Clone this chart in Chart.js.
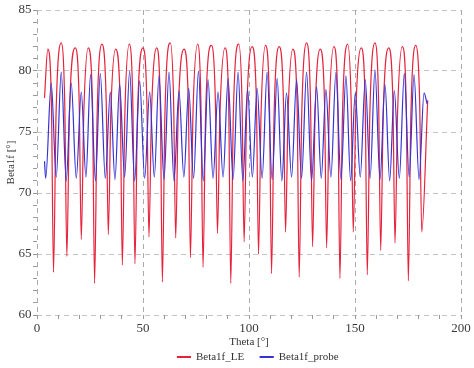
<!DOCTYPE html>
<html>
<head>
<meta charset="utf-8">
<script src="https://cdn.jsdelivr.net/npm/chart.js@4.4.1/dist/chart.umd.min.js"></script>
<style>
  html, body { margin: 0; padding: 0; background: #fff; }
</style>
</head>
<body>
<canvas id="chart" width="474" height="368"></canvas>
<script>
// ---- data (theta in deg, beta in deg) ----
const leEdgeTheta = [3.54, 184.3];
const leEdgeBeta  = [77.8, 77.6];
const lePeakTheta = [5.10, 11.43, 18.04, 24.19, 30.61, 37.08, 43.55, 49.98, 56.45, 62.92, 69.34, 75.81, 82.29, 88.71,
  95.18, 101.46, 107.79, 114.22, 120.69, 127.16, 133.58, 140.05, 146.53, 152.95, 159.42, 165.89, 172.32, 178.65];
const lePeakBeta  = [81.8, 82.3, 81.9, 81.9, 82.2, 81.8, 82.2, 81.9, 81.9, 82.3, 81.8, 82.2, 82.1, 81.9,
  82.2, 82.0, 82.1, 82.0, 81.8, 82.3, 81.8, 82.0, 82.2, 81.9, 82.3, 81.9, 82.0, 82.1];
const leFallTheta = [6.79, 13.08, 19.88, 26.16, 32.63, 39.25, 45.20, 51.81, 58.14, 64.42, 71.37, 77.32, 84.12, 90.40,
  96.69, 103.49, 109.63, 116.24, 122.67, 128.99, 135.61, 141.89, 148.17, 154.79, 161.12, 167.87, 174.16, 180.48];
const leFallBeta  = [77.5, 77.4, 77.6, 77.4, 77.6, 77.5, 77.4, 77.6, 77.4, 77.6, 77.5, 77.4, 77.6, 77.4,
  77.6, 77.5, 77.4, 77.6, 77.4, 77.6, 77.5, 77.4, 77.6, 77.4, 77.6, 77.5, 77.4, 77.6];
const leTroughTheta = [7.79, 14.08, 20.88, 27.16, 33.63, 40.25, 46.20, 52.81, 59.14, 65.42, 72.37, 78.32, 85.12, 91.40,
  97.69, 104.49, 110.63, 117.24, 123.67, 129.99, 136.61, 142.89, 149.17, 155.79, 162.12, 168.87, 175.16, 181.48];
const leTroughBeta  = [63.5, 64.8, 66.2, 62.6, 66.6, 64.1, 64.2, 66.4, 62.7, 66.3, 64.7, 63.9, 66.7, 62.6,
  66.0, 65.0, 63.4, 66.8, 63.1, 65.6, 65.5, 63.0, 66.8, 63.3, 65.3, 65.9, 62.8, 66.8];
const leRiseTheta = [8.99, 15.28, 22.08, 28.36, 34.83, 41.45, 47.40, 54.01, 60.34, 66.62, 73.57, 79.52, 86.32, 92.60,
  98.89, 105.69, 111.83, 118.44, 124.87, 131.19, 137.81, 144.09, 150.37, 156.99, 163.32, 170.07, 176.36];
const leRiseBeta  = [76.5, 76.4, 76.6, 76.4, 76.6, 76.5, 76.4, 76.6, 76.4, 76.6, 76.5, 76.4, 76.6, 76.4,
  76.6, 76.5, 76.4, 76.6, 76.4, 76.6, 76.5, 76.4, 76.6, 76.4, 76.6, 76.5, 76.4];

const probeEdgeTheta = [3.54, 184.0];
const probeEdgeBeta  = [72.6, 77.3];
const probePeakTheta = [6.71, 11.43, 16.15, 20.88, 25.27, 29.85, 34.58, 38.97, 43.69, 48.43, 53.14, 57.53, 62.26,
  66.98, 71.56, 76.15, 80.68, 85.40, 90.13, 94.85, 99.34, 103.83, 108.55, 113.27, 117.71, 122.44, 127.16,
  131.88, 136.28, 141.00, 145.73, 150.12, 154.84, 159.42, 164.15, 168.54, 173.26, 177.84, 182.57];
const probePeakBeta  = [79.0, 79.9, 79.0, 78.3, 79.7, 79.8, 78.3, 78.9, 80.0, 79.2, 78.3, 79.6, 79.9,
  78.4, 78.6, 80.0, 79.3, 78.3, 79.4, 79.9, 78.5, 78.6, 79.9, 79.4, 78.2, 79.3, 79.9,
  78.7, 78.5, 79.9, 79.6, 78.2, 79.3, 80.1, 78.9, 78.4, 79.8, 79.7, 78.2];
const probeTroughTheta = [4.10, 9.07, 13.79, 18.52, 23.08, 27.56, 32.22, 36.78, 41.33, 46.06, 50.79, 55.34, 59.90,
  64.62, 69.27, 73.86, 78.42, 83.04, 87.77, 92.49, 97.10, 101.59, 106.19, 110.91, 115.49, 120.08, 124.80,
  129.52, 134.08, 138.64, 143.37, 147.93, 152.48, 157.13, 161.79, 166.35, 170.90, 175.55, 180.21];
const probeTroughBeta  = [71.2, 71.3, 71.0, 71.2, 71.3, 71.0, 71.2, 71.1, 71.3, 71.0, 71.2, 71.3, 71.1,
  71.0, 71.3, 71.2, 71.0, 71.2, 71.3, 71.1, 71.0, 71.3, 71.2, 71.1, 71.0, 71.3, 71.2,
  71.0, 71.2, 71.3, 71.1, 71.0, 71.3, 71.2, 71.1, 71.0, 71.2, 71.3, 71.1];

const seriesNames = ['Beta1f_LE', 'Beta1f_probe'];
const xTitle = 'Theta [°]';
const yTitle = 'Beta1f [°]';

// ---- helpers ----
const SERIF = "'Liberation Serif', 'DejaVu Serif', serif";
const GRID_V = 'rgba(135,135,135,0.7)';
const GRID_H = 'rgba(150,150,150,0.55)';
const NONE = 'rgba(0,0,0,0)';

function toPoints(thetas, betas) {
  return thetas.map((x, i) => ({ x: x, y: betas[i] })).sort((a, b) => a.x - b.x);
}

const lePoints = toPoints(
  [].concat(leEdgeTheta, lePeakTheta, leFallTheta, leTroughTheta, leRiseTheta),
  [].concat(leEdgeBeta, lePeakBeta, leFallBeta, leTroughBeta, leRiseBeta));
const probePoints = toPoints(
  [].concat(probeEdgeTheta, probePeakTheta, probeTroughTheta),
  [].concat(probeEdgeBeta, probePeakBeta, probeTroughBeta));

// nudge the legend a bit right, like the original
const legendNudge = {
  id: 'legendNudge',
  afterLayout(chart) {
    if (!chart.legend) return;
    chart.legend.left += 9;
    chart.legend.right += 9;
  }
};

new Chart(document.getElementById('chart'), {
  type: 'line',
  data: {
    datasets: [
      { label: seriesNames[0], data: lePoints, borderColor: '#e6233d', backgroundColor: '#e6233d',
        borderWidth: 1.2, pointRadius: 0, cubicInterpolationMode: 'monotone', order: 2 },
      { label: seriesNames[1], data: probePoints, borderColor: '#3434d6', backgroundColor: '#3434d6',
        borderWidth: 1.2, pointRadius: 0, cubicInterpolationMode: 'monotone', order: 1 },
    ],
  },
  options: {
    responsive: false,
    animation: false,
    devicePixelRatio: 1,
    layout: { padding: { top: 10, right: 13, left: 0, bottom: -4.5 } },
    plugins: {
      tooltip: { enabled: false },
      legend: {
        position: 'bottom',
        fullSize: false,
        labels: { font: { family: SERIF, size: 11 }, color: '#333', boxWidth: 13, boxHeight: 1, padding: 16,
          sort: (a, b) => a.datasetIndex - b.datasetIndex },
      },
    },
    scales: {
      x: {
        type: 'linear', min: 0, max: 200,
        ticks: { stepSize: 10, autoSkip: false, maxRotation: 0, padding: 2, color: '#3a3a3a',
          font: { family: SERIF, size: 13 }, callback: v => (v % 50 === 0 ? v : '') },
        grid: { color: c => (c.tick && c.tick.value % 50 === 0 ? GRID_V : NONE), tickColor: '#9a9a9a', tickLength: 4 },
        border: { display: false, dash: [5, 4] },
        title: { display: true, text: xTitle, color: '#333', font: { family: SERIF, size: 11 },
          padding: { top: 0, bottom: -13 } },
        afterFit: s => { s.height = 20.5; },
      },
      y: {
        min: 60, max: 85,
        ticks: { stepSize: 1, autoSkip: false, padding: 1.5, color: '#3a3a3a',
          font: { family: SERIF, size: 13 }, callback: v => (v % 5 === 0 ? v : '') },
        grid: { color: c => (c.tick && c.tick.value % 5 === 0 ? GRID_H : NONE), tickColor: '#9a9a9a', tickLength: 4 },
        border: { display: false, dash: [5, 4] },
        title: { display: true, text: yTitle, color: '#333', font: { family: SERIF, size: 11 },
          padding: { top: 5, bottom: 0 } },
        afterFit: s => { s.width = 37; },
      },
    },
  },
  plugins: [legendNudge],
});
</script>
</body>
</html>
